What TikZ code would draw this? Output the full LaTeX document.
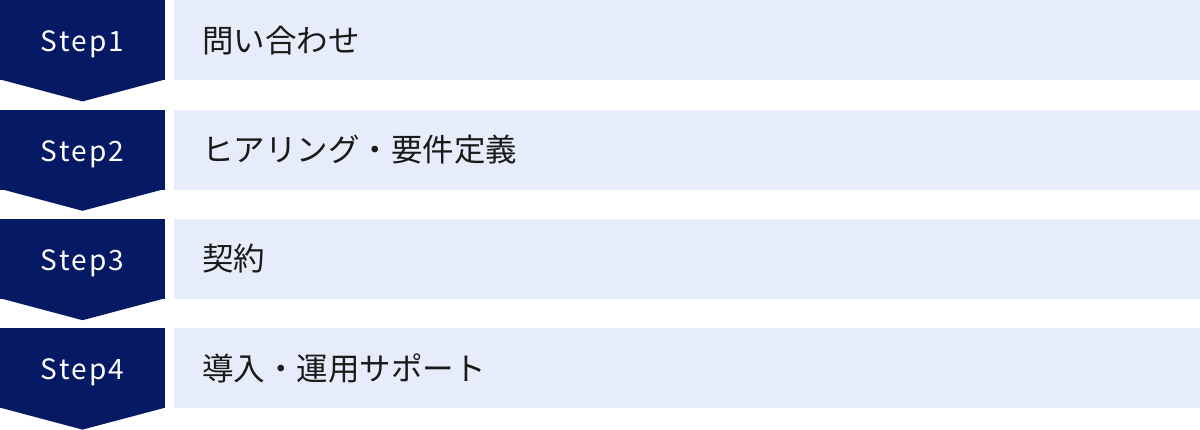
\documentclass[tikz,border=0pt]{standalone}
\usepackage{fontspec}
\setmainfont{Noto Sans CJK JP}
\newfontfamily\stepfont[LetterSpace=8]{Noto Sans CJK JP}
\usetikzlibrary{positioning}
\definecolor{stepnavy}{HTML}{061965}
\definecolor{panelblue}{HTML}{E6ECF9}
\definecolor{labelink}{HTML}{1A1A1A}

\begin{document}
\begin{tikzpicture}[x=1pt, y=1pt, node distance=29pt,
		stepbox/.style={fill=stepnavy, text=white, minimum width=165pt, minimum height=80pt, inner sep=0pt, text height=23pt, text depth=0pt, font=\stepfont\fontsize{28}{33}\selectfont},
		panel/.style={fill=panelblue, minimum width=1026pt, minimum height=80pt, inner sep=0pt},
		tasklabel/.style={text=labelink, inner sep=0pt, anchor=west, font=\fontsize{31.5}{38}\selectfont}]
		\useasboundingbox (0,0) rectangle (1200,-429);
		% Define step boxes
		\node[stepbox, anchor=north west] (S1) at (0,0) {Step1};
		\node[stepbox] (S2) [below=of S1] {Step2};
		\node[stepbox] (S3) [below=of S2] {Step3};
		\node[stepbox] (S4) [below=of S3] {Step4};
		
		% Define panels
		\node[panel, anchor=north west] (P1) at (174,0) {};
		\node[panel] (P2) [below=of P1] {};
		\node[panel] (P3) [below=of P2] {};
		\node[panel] (P4) [below=of P3] {};
		
		% Labels
		\node[tasklabel] (T1) [right=28pt of P1.west] {問い合わせ};
		\node[tasklabel] (T2) [right=28pt of P2.west] {ヒアリング・要件定義};
		\node[tasklabel] (T3) [right=28pt of P3.west] {契約};
		\node[tasklabel] (T4) [right=28pt of P4.west] {導入・運用サポート};
		
		% Draw chevron tips
		\fill[stepnavy] ([yshift=1pt]S1.south west) -- ++(82.5,-22) -- ([yshift=1pt]S1.south east) -- cycle;
		\fill[stepnavy] ([yshift=1pt]S2.south west) -- ++(82.5,-22) -- ([yshift=1pt]S2.south east) -- cycle;
		\fill[stepnavy] ([yshift=1pt]S3.south west) -- ++(82.5,-22) -- ([yshift=1pt]S3.south east) -- cycle;
		\fill[stepnavy] ([yshift=1pt]S4.south west) -- ++(82.5,-22) -- ([yshift=1pt]S4.south east) -- cycle;
	\end{tikzpicture}
\end{document}
